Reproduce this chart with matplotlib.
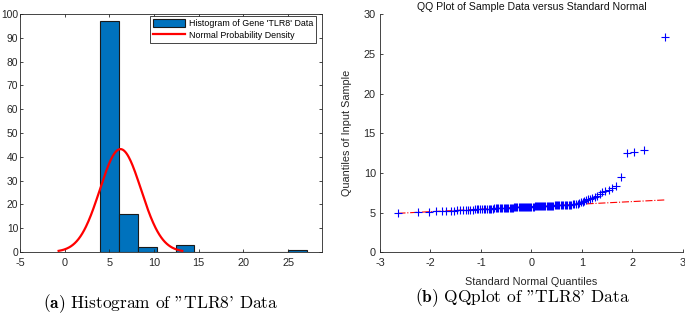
import numpy as np
import matplotlib
matplotlib.use('Agg')
import matplotlib.pyplot as plt
from matplotlib.patches import Patch
from matplotlib.lines import Line2D
from statistics import NormalDist

plt.rcParams['font.family'] = ['Liberation Sans', 'DejaVu Sans']
plt.rcParams['axes.unicode_minus'] = False
plt.rcParams['mathtext.fontset'] = 'cm'

# sorted TLR8 expression values
tlr8 = [4.92, 5.02, 5.12, 5.16, 5.19, 5.22, 5.25, 5.27, 5.29, 5.31,
        5.33, 5.35, 5.36, 5.37, 5.39, 5.40, 5.41, 5.42, 5.44, 5.45,
        5.46, 5.47, 5.48, 5.49, 5.50, 5.51, 5.52, 5.53, 5.53, 5.54,
        5.55, 5.56, 5.57, 5.58, 5.58, 5.59, 5.60, 5.61, 5.61, 5.62,
        5.63, 5.64, 5.64, 5.65, 5.66, 5.66, 5.67, 5.68, 5.69, 5.69,
        5.70, 5.71, 5.71, 5.72, 5.72, 5.73, 5.74, 5.75, 5.75, 5.76,
        5.77, 5.77, 5.78, 5.79, 5.79, 5.80, 5.81, 5.81, 5.82, 5.83,
        5.83, 5.84, 5.85, 5.86, 5.86, 5.87, 5.88, 5.88, 5.89, 5.90,
        5.91, 5.91, 5.92, 5.93, 5.94, 5.94, 5.95, 5.96, 5.97, 5.98,
        5.99, 6.00, 6.01, 6.02, 6.03, 6.05, 6.07, 6.12, 6.20, 6.28,
        6.36, 6.45, 6.55, 6.66, 6.75, 6.86, 6.98, 7.12, 7.30, 7.55,
        7.75, 7.85, 8.10, 8.35, 9.48, 12.48, 12.69, 12.90, 27.10]
bin_edges = [4.0, 6.1, 8.2, 10.3, 12.4, 14.5, 16.6, 18.7, 20.8, 22.9, 25.0, 27.1]

hist_xticks = [-5, 0, 5, 10, 15, 20, 25]
hist_yticks = [0, 10, 20, 30, 40, 50, 60, 70, 80, 90, 100]
qq_xticks = [-3, -2, -1, 0, 1, 2, 3]
qq_yticks = [0, 5, 10, 15, 20, 25, 30]

data = np.array(tlr8)
n = len(data)
nd = NormalDist()

fig = plt.figure(figsize=(6.85, 3.15), dpi=100)
tick_col = '#262626'
fs = 7.8

# ---- (a) histogram with normal fit
ax1 = fig.add_axes([0.0292, 0.2, 0.441, 0.7556])
counts, edges = np.histogram(data, bins=bin_edges)
width = edges[1] - edges[0]
ax1.bar(edges[:-1], counts, width=np.diff(edges), align='edge',
        color='#0072BD', edgecolor='#1a1a1a', linewidth=0.8)
mu = data.mean()
sd = data.std(ddof=1)
fit = NormalDist(mu, sd)
xs = np.linspace(mu - 3 * sd, mu + 3 * sd, 200)
ax1.plot(xs, [n * width * fit.pdf(v) for v in xs], color='red', linewidth=1.6)
ax1.set_xlim(-5, 28.8)
ax1.set_ylim(0, 100)
ax1.set_xticks(hist_xticks)
ax1.set_yticks(hist_yticks)
ax1.tick_params(direction='in', length=2.5, width=0.6, labelsize=fs,
                colors=tick_col, top=True, right=True, pad=4.2)
ax1.tick_params(axis='y', pad=1.2, labelsize=7.4)
for s in ax1.spines.values():
    s.set_color(tick_col)
    s.set_linewidth(0.6)
handles = [Patch(facecolor='#0072BD', edgecolor='#1a1a1a', linewidth=0.8),
           Line2D([], [], color='red', linewidth=1.6)]
leg = ax1.legend(handles, ["Histogram of Gene 'TLR8' Data", 'Normal Probability Density'],
                 loc='upper right', bbox_to_anchor=(0.98, 0.992), borderaxespad=0,
                 fontsize=6.4, fancybox=False, edgecolor='#262626', framealpha=1,
                 handlelength=3.6, handleheight=0.9, labelspacing=0.3,
                 borderpad=0.35, handletextpad=0.35)
leg.get_frame().set_linewidth(0.6)

# ---- (b) QQ plot
ax2 = fig.add_axes([0.5547, 0.199, 0.4423, 0.7556])
theo = np.array([nd.inv_cdf((i - 0.5) / n) for i in range(1, n + 1)])
q1, q3 = np.percentile(data, [25, 75])
tq1, tq3 = nd.inv_cdf(0.25), nd.inv_cdf(0.75)
slope = (q3 - q1) / (tq3 - tq1)
icpt = q1 - slope * tq1
lx = np.array([theo.min(), theo.max()])
ax2.plot(lx, icpt + slope * lx, color='red', linestyle='-.', linewidth=0.8)
ax2.plot(theo, data, linestyle='none', marker='+', color='blue',
         markersize=6, markeredgewidth=0.8)
ax2.set_xlim(-3, 3)
ax2.set_ylim(0, 30)
ax2.set_xticks(qq_xticks)
ax2.set_yticks(qq_yticks)
ax2.spines['top'].set_visible(False)
ax2.spines['right'].set_visible(False)
for s in ax2.spines.values():
    s.set_color(tick_col)
    s.set_linewidth(0.6)
ax2.tick_params(direction='in', length=2.5, width=0.6, labelsize=fs,
                colors=tick_col, pad=3)
ax2.tick_params(axis='x', pad=4.2)
ax2.set_title('QQ Plot of Sample Data versus Standard Normal', fontsize=7.6,
              color='#111111', pad=3)
ax2.set_xlabel('Standard Normal Quantiles', fontsize=fs, color=tick_col, labelpad=6.5)
ax2.set_ylabel('Quantiles of Input Sample', fontsize=fs, color=tick_col, labelpad=8)

# ---- captions
fig.text(161 / 685, 1 - 304 / 315, r'$\mathbf{(a)}$ Histogram of "TLR8' + "' Data",
         family='cmr10', fontsize=12.5, ha='center', va='center')
fig.text(522 / 685, 1 - 298 / 315, r'$\mathbf{(b)}$ QQplot of "TLR8' + "' Data",
         family='cmr10', fontsize=12.5, ha='center', va='center')

fig.savefig('out.png', dpi=100)
